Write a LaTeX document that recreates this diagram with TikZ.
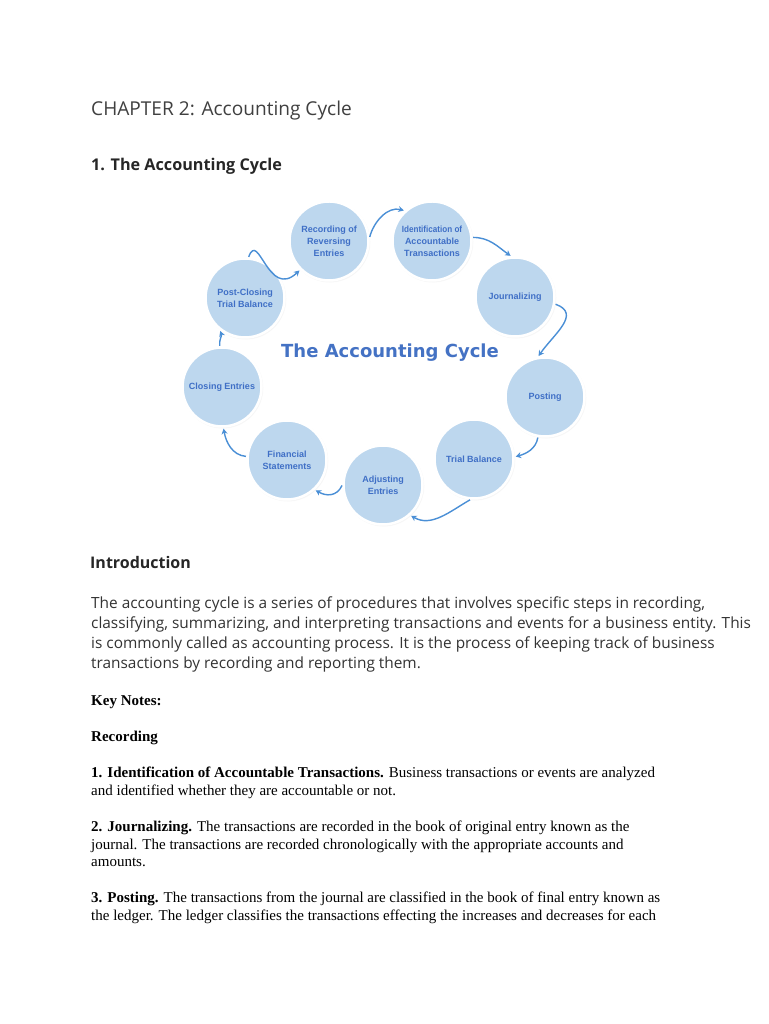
\documentclass[tikz,border=0pt]{standalone}
\usepackage{fontspec}
\usetikzlibrary{arrows.meta,shadows}
\newfontfamily\uifont{Open Sans}
\newfontfamily\tnrfont{Liberation Serif}
\newfontfamily\djfont{DejaVu Sans}
\newfontfamily\lsfont{Liberation Sans}
\definecolor{circfill}{HTML}{BDD7EE}
\definecolor{labblue}{HTML}{3F6FC6}
\definecolor{titleblue}{HTML}{4472C4}
\definecolor{arrblue}{HTML}{4A8FD6}
\definecolor{headgray}{HTML}{404040}
\definecolor{paragray}{HTML}{333333}
\tikzset{
  cyc/.style={circle, minimum size=79pt, inner sep=0pt, fill=circfill, draw=white, line width=2.5pt,
    circular drop shadow={shadow xshift=0.6pt, shadow yshift=-0.8pt, opacity=0.28, shadow scale=1.035},
    text=labblue, align=center, font=\lsfont\bfseries\fontsize{9}{12}\selectfont},
  arr/.style={draw=arrblue, line width=1.4pt, -{Stealth[length=5.5pt,width=6pt]}, shorten >=1pt, shorten <=0.5pt},
  txt/.style={anchor=base west, inner sep=0pt},
  head/.style={txt, text=headgray},
  para/.style={txt, text=paragray, font=\uifont\fontsize{15.4}{18}\selectfont},
  tnr/.style={txt, text=black, font=\tnrfont\fontsize{15}{17}\selectfont}
}
\begin{document}
\begin{tikzpicture}[x=1pt,y=1pt]
\useasboundingbox (0,0) rectangle (768,1024);
\fill[white] (0,0) rectangle (768,1024);

% headings
\node[head, font=\uifont\fontsize{19.1}{22}\selectfont] (chap) at (91,908) {CHAPTER 2: Accounting Cycle};
\node[head, text=black!85, font=\uifont\bfseries\fontsize{16.2}{20}\selectfont] (sec) at (91,853) {1. The Accounting Cycle};

% cycle circles
\node[cyc] (rev) at (329,783) {Recording of\\Reversing\\Entries};
\node[cyc] (ident) at (432,783) {\scalebox{0.9}[1]{Identification of}\\Accountable\\Transactions};
\node[cyc] (journ) at (515,727) {Journalizing};
\node[cyc] (post) at (545,627) {Posting};
\node[cyc] (trial) at (474,565) {Trial Balance};
\node[cyc] (adj) at (383,539) {Adjusting\\Entries};
\node[cyc] (fin) at (287,564) {Financial\\Statements};
\node[cyc] (closing) at (222,637) {Closing Entries};
\node[cyc] (postclose) at (245,726) {Post-Closing\\Trial Balance};

\node[text=titleblue, font=\djfont\bfseries\fontsize{18}{20}\selectfont, inner sep=0pt] (ctitle) at (390,671) {The Accounting Cycle};

% connectors
\draw[arr] (rev.5) to[out=75,in=165] (ident.132);
\draw[arr] (ident.5) to[out=0,in=145] (journ.95);
\draw[arr] (journ.-10) to[out=-20,in=55,looseness=1.3] (post.100);
\draw[arr] (post.-100) to[out=-100,in=15] (trial.3);
\draw[arr] (trial.-95) to[out=-150,in=-30] (adj.-48);
\draw[arr] (adj.180) to[out=-115,in=-30,looseness=1.2] (fin.-47);
\draw[arr] (fin.175) to[out=175,in=-80] (closing.-88);
\draw[arr] (closing.93) to[out=100,in=-70] (postclose.-128);
\draw[arr] (postclose.85) .. controls +(10,28) and +(-32,-30) .. (rev.-135);

% introduction
\node[head, text=black!85, font=\uifont\bfseries\fontsize{16}{20}\selectfont] (intro) at (90,455) {Introduction};
\node[para] (p1) at (91,415) {The accounting cycle is a series of procedures that involves specific steps in recording,};
\node[para] (p2) at (91,395) {classifying, summarizing, and interpreting transactions and events for a business entity. This};
\node[para] (p3) at (91,375) {is commonly called as accounting process. It is the process of keeping track of business};
\node[para] (p4) at (91,355) {transactions by recording and reporting them.};

% key notes
\node[tnr] (kn) at (91,318) {\bfseries Key Notes:};
\node[tnr] (recd) at (91,282) {\bfseries Recording};
\node[tnr] (i1a) at (91,246) {\textbf{1. Identification of Accountable Transactions.} Business transactions or events are analyzed};
\node[tnr] (i1b) at (91,228) {and identified whether they are accountable or not.};
\node[tnr] (i2a) at (91,192) {\textbf{2. Journalizing.} The transactions are recorded in the book of original entry known as the};
\node[tnr] (i2b) at (91,174) {journal. The transactions are recorded chronologically with the appropriate accounts and};
\node[tnr] (i2c) at (91,157) {amounts.};
\node[tnr] (i3a) at (91,121) {\textbf{3. Posting.} The transactions from the journal are classified in the book of final entry known as};
\node[tnr] (i3b) at (91,103) {the ledger. The ledger classifies the transactions effecting the increases and decreases for each};
\end{tikzpicture}
\end{document}
